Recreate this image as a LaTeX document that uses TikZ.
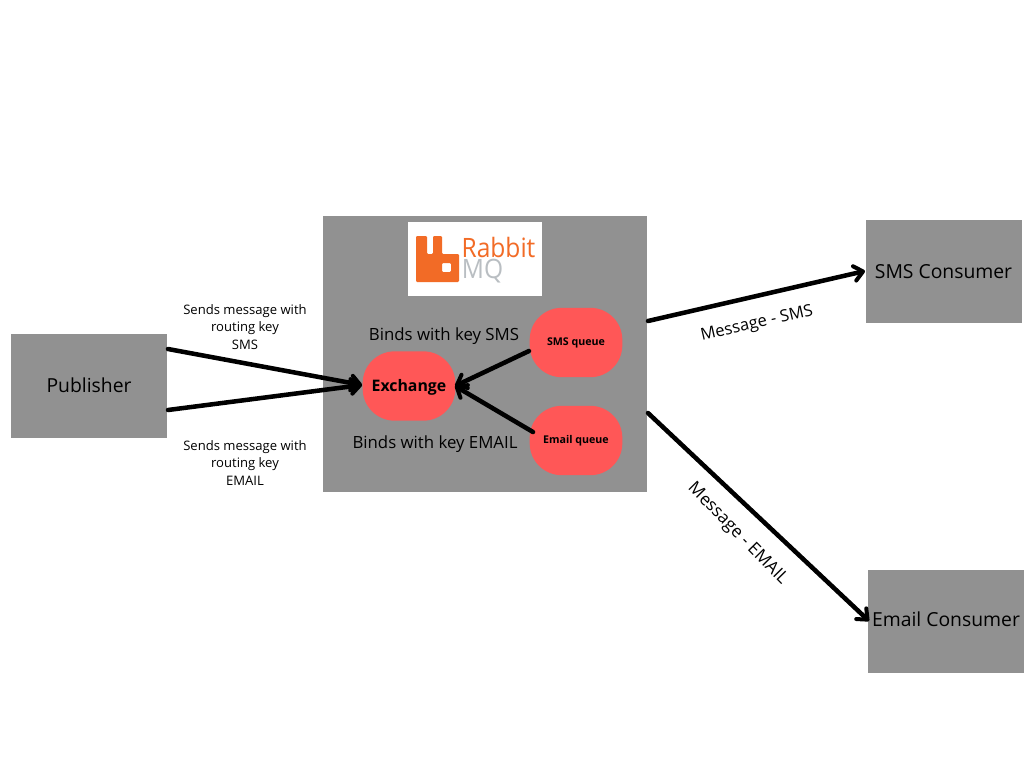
\documentclass[tikz,border=0pt]{standalone}
\usepackage{fontspec}
\setmainfont{Open Sans}
\usetikzlibrary{arrows.meta}
\definecolor{boxgrey}{HTML}{919191}
\definecolor{pillred}{HTML}{FF5757}
\definecolor{rabbitorange}{HTML}{F26B26}
\definecolor{mqgrey}{HTML}{B9BEC2}

\begin{document}
\begin{tikzpicture}[
    x=0.75pt, y=-0.75pt,
    block/.style={rectangle, fill=boxgrey, minimum width=117pt, minimum height=77.5pt, inner sep=0pt, font=\fontsize{14.5}{17}\selectfont},
    broker/.style={rectangle, fill=boxgrey, minimum width=243pt, minimum height=207pt, inner sep=0pt},
    queue/.style={rectangle, fill=pillred, rounded corners=24pt, minimum width=69.5pt, minimum height=52pt, inner sep=0pt, font=\fontsize{8}{10}\bfseries\selectfont},
    note/.style={align=center, inner sep=0pt, font=\fontsize{9.8}{13}\selectfont},
    bind/.style={inner sep=0pt, font=\fontsize{12.6}{15}\selectfont},
    msg/.style={inner sep=0pt, font=\fontsize{12.4}{15}\selectfont},
    line/.style={draw, line width=3.4pt, line cap=round, -{Straight Barb[length=6.5pt,width=11pt,line width=3pt,round]}}
]
    \useasboundingbox (0,0) rectangle (1024,768);

    \node [block] (publisher) at (89,386) {\raisebox{0.75pt}{Publisher}};
    \node [broker] (rabbit) at (485,354) {};
    \node [block] (smsconsumer) at (943.5,271.5) {SMS Consumer};
    \node [block] (emailconsumer) at (946,621.5) {\raisebox{-3.9pt}[0pt][0pt]{Email Consumer}};

    % logo
    \node [rectangle, fill=white, minimum width=100.5pt, minimum height=55.5pt, inner sep=0pt] (logo) at (475,259) {};
    \fill [rabbitorange, even odd rule, rounded corners=0.8pt] (416,236) -- (427,236) -- (427,254) -- (433,254) -- (433,236) -- (442,236) -- (442,254) -- (459,254) -- (459,282) -- (416,282) -- cycle
        (442,263) -- (451,263) -- (451,272) -- (442,272) -- cycle;
    \node [inner sep=0pt, xscale=0.92, text=rabbitorange, font=\fontsize{20}{22}\selectfont] (rabbittext) at (498.5,247) {Rabbit};
    \node [inner sep=0pt, xscale=0.92, text=mqgrey, font=\fontsize{20}{22}\selectfont] (mqtext) at (482.5,271) {MQ};

    \node [queue, font=\fontsize{11.9}{14}\bfseries\selectfont] (exchange) at (409,386) {\raisebox{-3.9pt}[0pt][0pt]{Exchange}};
    \node [queue] (smsqueue) at (576,342.5) {SMS queue};
    \node [queue] (emailqueue) at (576,440.5) {Email queue};

    \node [bind] (bindsms) at (444,336) {Binds with key SMS};
    \node [bind] (bindemail) at (435,444) {Binds with key EMAIL};

    \node [note] (sendsms) at (245,327) {Sends message with\\routing key\\SMS};
    \node [note] (sendemail) at (245,463) {Sends message with\\routing key\\EMAIL};
    \node [msg, rotate=13] (msgsms) at (757,324) {Message - SMS};
    \node [msg, rotate=-45.5, font=\fontsize{12.9}{15}\selectfont] (msgemail) at (737.5,534) {Message - EMAIL};

    \coordinate (pubtop) at (168,349);
    \coordinate (pubbottom) at (168,410);
    \coordinate (exin) at (362,385);
    \coordinate (exout) at (455,386);
    \coordinate (smsfrom) at (529,351);
    \coordinate (emailfrom) at (533,432);
    \coordinate (brokersms) at (648,321);
    \coordinate (brokeremail) at (648,413);
    \coordinate (smsin) at (865,271);
    \coordinate (emailin) at (869,621);

    \path [line] (pubtop) -- (exin);
    \path [line] (pubbottom) -- (exin);
    \path [line] (smsfrom) -- (exout);
    \path [line] (emailfrom) -- (exout);
    \path [line] (brokersms) -- (smsin);
    \path [line] (brokeremail) -- (emailin);
\end{tikzpicture}
\end{document}
